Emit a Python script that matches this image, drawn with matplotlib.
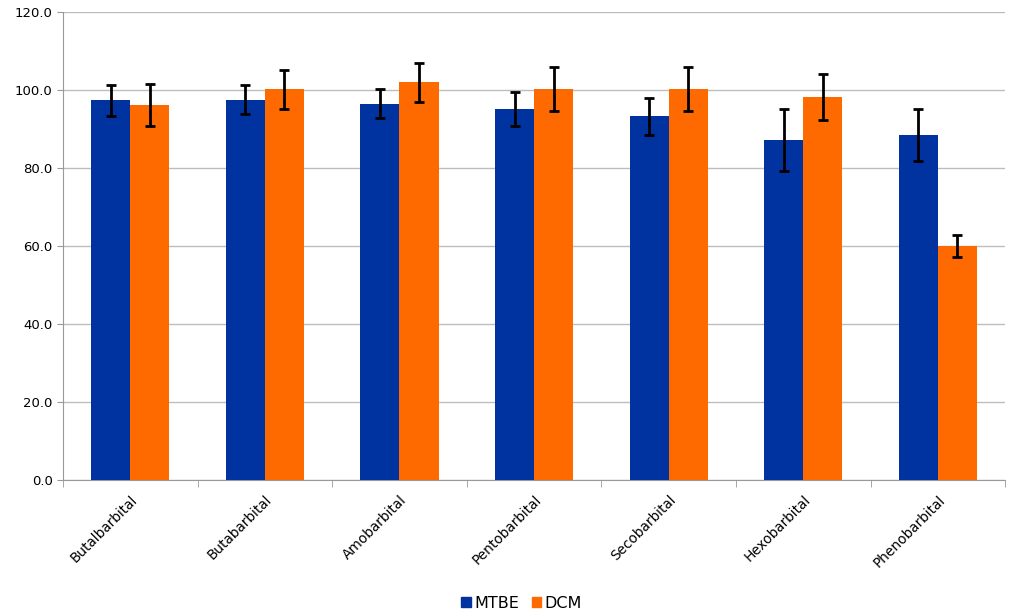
import matplotlib.pyplot as plt
import numpy as np
from matplotlib.patches import Patch

categories = ["Butalbarbital", "Butabarbital", "Amobarbital", "Pentobarbital",
              "Secobarbital", "Hexobarbital", "Phenobarbital"]
mtbe = [97.4, 97.6, 96.6, 95.2, 93.3, 87.3, 88.5]
mtbe_err = [3.9, 3.7, 3.8, 4.4, 4.8, 8.0, 6.6]
dcm = [96.2, 100.2, 102.0, 100.4, 100.3, 98.3, 60.0]
dcm_err = [5.3, 5.0, 5.0, 5.6, 5.7, 5.9, 2.8]

blue = "#0033a0"
orange = "#ff6a00"

fig = plt.figure(figsize=(10.33, 6.14), dpi=100)
ax = fig.add_axes([0.061, 0.218, 0.912, 0.762])

x = np.arange(len(categories))
w = 0.29
err_kw = dict(ecolor="black", elinewidth=2, capsize=3.5, capthick=2)
ax.bar(x - w / 2, mtbe, w, color=blue, yerr=mtbe_err, error_kw=err_kw, zorder=3)
ax.bar(x + w / 2, dcm, w, color=orange, yerr=dcm_err, error_kw=err_kw, zorder=3)

ax.set_xlim(-0.5, len(categories) - 0.5)
ax.set_ylim(0, 120)
ax.set_yticks(np.arange(0, 121, 20))
ax.set_yticklabels([f"{v:.1f}" for v in np.arange(0, 121, 20)], fontsize=9.5)
ax.yaxis.grid(True, color="#bdbdbd", linewidth=1)
ax.set_axisbelow(True)

ax.set_xticks(x)
ax.set_xticklabels(categories, rotation=45, ha="right", rotation_mode="anchor", fontsize=9.8)
ax.tick_params(axis="x", length=0, pad=9)
ax.set_xticks(np.arange(-0.5, len(categories)), minor=True)
ax.tick_params(axis="x", which="minor", length=5, color="#999999")
ax.tick_params(axis="y", length=4, color="#999999")

for side in ("top", "right"):
    ax.spines[side].set_visible(False)
for side in ("left", "bottom"):
    ax.spines[side].set_color("#999999")

handles = [Patch(color=blue, label="MTBE"), Patch(color=orange, label="DCM")]
fig.legend(handles=handles, loc="lower center", bbox_to_anchor=(0.505, -0.018), ncol=2,
           frameon=False, fontsize=11.5, handlelength=0.6, handleheight=0.6,
           handletextpad=0.2, columnspacing=0.8)

fig.savefig("out.png")
